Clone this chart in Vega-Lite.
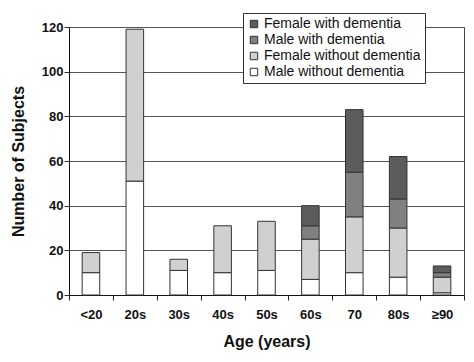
{
  "$schema": "https://vega.github.io/schema/vega-lite/v6.json",
  "autosize": "none",
  "width": 395,
  "height": 268,
  "padding": {"left": 69, "top": 27, "right": 10, "bottom": 67},
  "background": "white",
  "config": {
    "font": "Liberation Sans",
    "view": {"stroke": "#444", "strokeWidth": 1},
    "axis": {"labelFont": "Liberation Sans", "titleFont": "Liberation Sans", "labelColor": "#111", "titleColor": "#111"}
  },
  "data": {
    "values": [
      {"age": "<20", "group": "Male without dementia", "k": 1, "n": 10},
      {"age": "<20", "group": "Female without dementia", "k": 2, "n": 9},
      {"age": "20s", "group": "Male without dementia", "k": 1, "n": 51},
      {"age": "20s", "group": "Female without dementia", "k": 2, "n": 68},
      {"age": "30s", "group": "Male without dementia", "k": 1, "n": 11},
      {"age": "30s", "group": "Female without dementia", "k": 2, "n": 5},
      {"age": "40s", "group": "Male without dementia", "k": 1, "n": 10},
      {"age": "40s", "group": "Female without dementia", "k": 2, "n": 21},
      {"age": "50s", "group": "Male without dementia", "k": 1, "n": 11},
      {"age": "50s", "group": "Female without dementia", "k": 2, "n": 22},
      {"age": "60s", "group": "Male without dementia", "k": 1, "n": 7},
      {"age": "60s", "group": "Female without dementia", "k": 2, "n": 18},
      {"age": "60s", "group": "Male with dementia", "k": 3, "n": 6},
      {"age": "60s", "group": "Female with dementia", "k": 4, "n": 9},
      {"age": "70", "group": "Male without dementia", "k": 1, "n": 10},
      {"age": "70", "group": "Female without dementia", "k": 2, "n": 25},
      {"age": "70", "group": "Male with dementia", "k": 3, "n": 20},
      {"age": "70", "group": "Female with dementia", "k": 4, "n": 28},
      {"age": "80s", "group": "Male without dementia", "k": 1, "n": 8},
      {"age": "80s", "group": "Female without dementia", "k": 2, "n": 22},
      {"age": "80s", "group": "Male with dementia", "k": 3, "n": 13},
      {"age": "80s", "group": "Female with dementia", "k": 4, "n": 19},
      {"age": "≥90", "group": "Male without dementia", "k": 1, "n": 1},
      {"age": "≥90", "group": "Female without dementia", "k": 2, "n": 7},
      {"age": "≥90", "group": "Male with dementia", "k": 3, "n": 2},
      {"age": "≥90", "group": "Female with dementia", "k": 4, "n": 3}
    ]
  },
  "mark": {"type": "bar", "width": {"band": 0.4}, "stroke": "#333", "strokeWidth": 1},
  "encoding": {
    "x": {
      "field": "age",
      "type": "nominal",
      "sort": ["<20", "20s", "30s", "40s", "50s", "60s", "70", "80s", "≥90"],
      "scale": {"paddingInner": 0, "paddingOuter": 0},
      "axis": {
        "title": "Age (years)",
        "labelAngle": 0,
        "labelFontSize": 13,
        "labelFontWeight": "bold",
        "titleFontSize": 16,
        "titleFontWeight": "bold",
        "titlePadding": 12,
        "tickBand": "extent",
        "tickSize": 5,
        "tickColor": "#222",
        "domainColor": "#111",
        "labelPadding": 8,
        "grid": false
      }
    },
    "y": {
      "field": "n",
      "type": "quantitative",
      "stack": "zero",
      "scale": {"domain": [0, 120], "nice": false},
      "axis": {
        "title": "Number of Subjects",
        "values": [0, 20, 40, 60, 80, 100, 120],
        "labelFontSize": 13,
        "labelFontWeight": "bold",
        "titleFontSize": 16,
        "titleFontWeight": "bold",
        "titlePadding": 15,
        "tickSize": 5,
        "tickColor": "#333",
        "labelPadding": 1,
        "domainColor": "#111",
        "grid": true,
        "gridColor": "#555",
        "gridOpacity": 1
      }
    },
    "color": {
      "field": "group",
      "type": "nominal",
      "scale": {
        "domain": ["Female with dementia", "Male with dementia", "Female without dementia", "Male without dementia"],
        "range": ["#5c5c5c", "#808080", "#d0d0d0", "#ffffff"]
      },
      "legend": {
        "title": null,
        "orient": "none",
        "legendX": 174,
        "legendY": -14,
        "fillColor": "white",
        "strokeColor": "#333",
        "padding": 4,
        "labelFontSize": 14,
        "labelFont": "Liberation Sans",
        "labelColor": "#111",
        "labelLimit": 0,
        "symbolType": "square",
        "symbolSize": 55,
        "symbolStrokeColor": "#333",
        "symbolStrokeWidth": 1,
        "rowPadding": 2,
        "labelOffset": 3
      }
    },
    "order": {"field": "k", "type": "quantitative", "sort": "ascending"}
  }
}
